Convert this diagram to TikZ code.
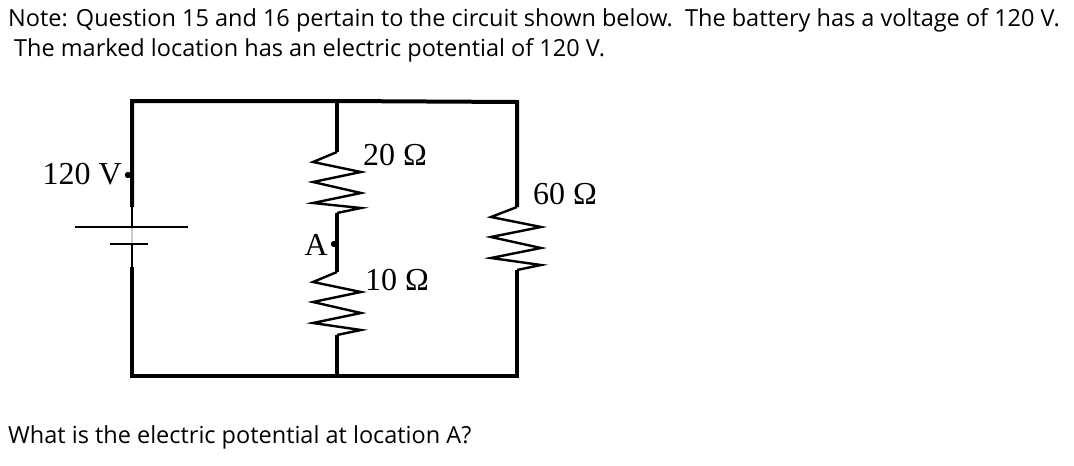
\documentclass[tikz,border=0pt]{standalone}
\usepackage{fontspec}
\setmainfont{Liberation Serif}
\newfontfamily\notefont{Open Sans}
\begin{document}
\begin{tikzpicture}[x=1pt,y=-1pt,
  wire/.style={line width=4pt},
  res/.style={line width=2.4pt,line join=miter},
  note/.style={font=\notefont\fontsize{23.5}{28}\selectfont,anchor=west,inner sep=0pt},
  lab/.style={font=\fontsize{32}{36}\selectfont,inner sep=0pt}]
\useasboundingbox (0,0) rectangle (1074,466);
\node[note] (n1) at (8,20) {Note: Question 15 and 16 pertain to the circuit shown below.\ \ The battery has a voltage of 120 V.};
\node[note] (n2) at (14,50) {The marked location has an electric potential of 120 V.};
\node[note] (q) at (8,437) {What is the electric potential at location A?};
\coordinate (tl) at (132,101);
\coordinate (tm) at (337,101);
\coordinate (tr) at (517,102);
\coordinate (bl) at (132,376);
\coordinate (bm) at (337,376);
\coordinate (br) at (517,376);
\coordinate (bt) at (132,207);
\coordinate (bb) at (132,267);
\draw[wire] (bt) -- (tl) -- (tm) -- (tr) -- (517,207);
\draw[wire] (bb) -- (bl) -- (bm) -- (br) -- (517,270);
\draw[wire] (tm) -- (337,152);
\draw[wire] (337,213) -- (337,272);
\draw[wire] (337,335) -- (bm);
\draw[line width=1.3pt,black!20] (bt) -- (bb);
\draw[line width=2pt] (132,207) -- (132,227) (132,244) -- (132,267);
\draw[line width=2.4pt] (75,227) -- (188,227);
\draw[line width=2.4pt] (110,244) -- (148,244);
\draw[res] (337,152) -- (313,162) -- (361,172) -- (313,182) -- (361,193) -- (313,203) -- (361,208) -- (337,213);
\draw[res] (337,272) -- (313,282) -- (361,292) -- (313,302) -- (361,313) -- (313,323) -- (361,330) -- (337,335);
\draw[res] (517,207) -- (491,217) -- (541,227) -- (491,237) -- (541,248) -- (491,258) -- (541,265) -- (517,270);
\fill (128,175) circle (3.2pt) coordinate (d1);
\fill (334,244) circle (3.2pt) coordinate (d2);
\node[lab,anchor=east] (v) at (122,174) {120 V};
\node[lab,anchor=east] (a) at (328,245) {A};
\node[lab,anchor=west] (r1) at (363,155) {20 Ω};
\node[lab,anchor=west] (r2) at (365,280) {10 Ω};
\node[lab,anchor=west] (r3) at (533,194) {60 Ω};
\end{tikzpicture}
\end{document}
